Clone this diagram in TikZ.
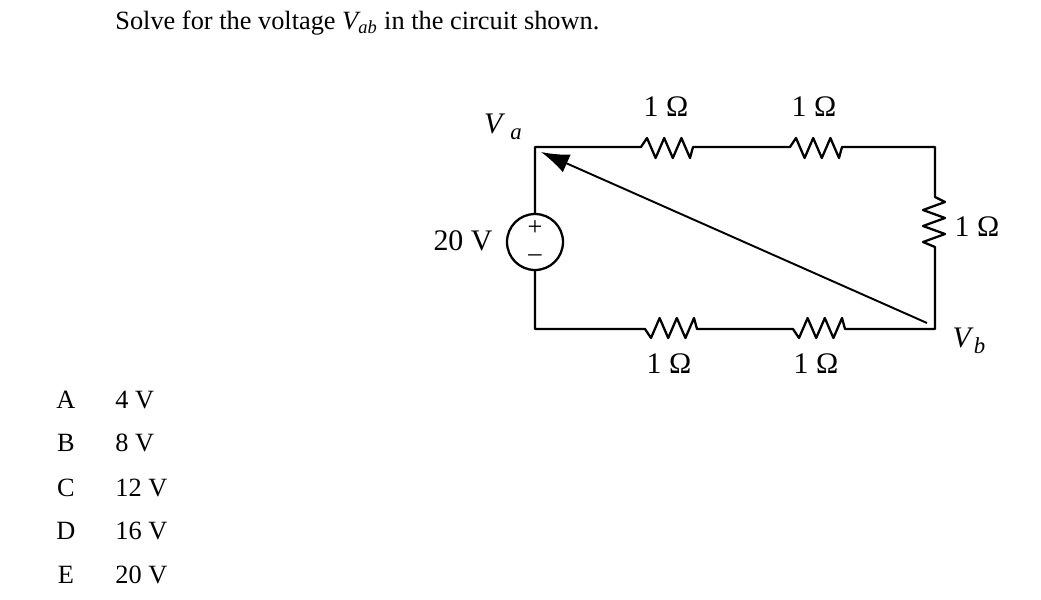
\documentclass[tikz,border=0pt]{standalone}
\usepackage{fontspec}
\setmainfont{Liberation Serif}
\usetikzlibrary{arrows.meta}
\newcommand{\subit}[1]{\raisebox{-0.45ex}{\fontsize{13}{13}\selectfont\itshape #1}}
\begin{document}
\begin{tikzpicture}[x=0.02cm,y=-0.02cm,
  wire/.style={line width=1.3pt},
  txt/.style={font=\fontsize{15}{18}\selectfont,inner sep=0pt},
  lbl/.style={font=\fontsize{17}{18}\selectfont,inner sep=0pt}]
\useasboundingbox (0,0) rectangle (1041,599);
\node[txt,anchor=west] (title) at (115,23) {Solve for the voltage \textit{V\textsubscript{ab}} in the circuit shown.};
% answers
\foreach \l/\v/\y [count=\i] in {A/4 V/400,B/8 V/443,C/12 V/488,D/16 V/531,E/20 V/575}{
  \node[txt] (L\i) at (66,\y) {\l};
  \node[txt,anchor=west] (V\i) at (115,\y) {\v};
}
% corners
\coordinate (tl) at (535,147);
\coordinate (tr) at (935,147);
\coordinate (br) at (935,329);
\coordinate (bl) at (535,329);
\node[circle,draw,line width=1.3pt,inner sep=0pt,minimum size=1.12cm] (src) at (535,242) {};
\node[font=\fontsize{15}{15}\selectfont,inner sep=0pt] (plus) at (535,228) {+};
\node[font=\fontsize{15}{15}\selectfont,inner sep=0pt] (minus) at (535,258) {–};
% circuit loop with resistors
\draw[wire,line join=round] (src.north) -- (tl) -- (641,147) -- ++(6,-9) -- ++(8.6,20) -- ++(8.6,-20) -- ++(8.6,20) -- ++(8.6,-20) -- ++(8.6,20) -- ++(3,-11) -- (790,147)
  -- ++(6,-9) -- ++(8.6,20) -- ++(8.6,-20) -- ++(8.6,20) -- ++(8.6,-20) -- ++(8.6,20) -- ++(3,-11) -- (tr) -- (935,197)
  -- ++(10,5) -- ++(-22,8) -- ++(22,8) -- ++(-22,8) -- ++(22,8) -- ++(-22,8) -- ++(12,5) -- (br)
  -- (845,329) -- ++(-3,-11) -- ++(-8.6,20) -- ++(-8.6,-20) -- ++(-8.6,20) -- ++(-8.6,-20) -- ++(-8.6,20) -- ++(-6,-9) -- (697,329)
  -- ++(-3,-11) -- ++(-8.6,20) -- ++(-8.6,-20) -- ++(-8.6,20) -- ++(-8.6,-20) -- ++(-8.6,20) -- ++(-6,-9) -- (bl) -- (src.south);
\coordinate (tail) at (927,323);
\coordinate (tip) at (541,152);
\draw[line width=1.1pt,-{Latex[length=16pt,width=11pt]}] (tail) -- (tip);
% labels
\node[lbl] (r1) at (666,107) {1 Ω};
\node[lbl] (r2) at (814,107) {1 Ω};
\node[lbl] (r3) at (669,364) {1 Ω};
\node[lbl] (r4) at (816,364) {1 Ω};
\node[lbl] (r5) at (977,227) {1 Ω};
\node[lbl] (vs) at (463,241) {20 V};
\node[lbl] (va) at (503,127) {\textit{V}\,\subit{a}};
\node[lbl] (vb) at (969,341) {\textit{V}\subit{b}};
\end{tikzpicture}
\end{document}
